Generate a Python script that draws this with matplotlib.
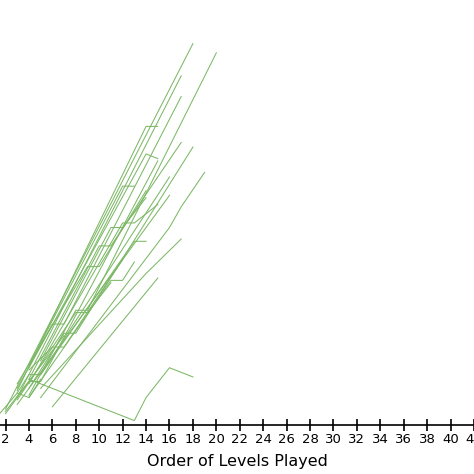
import matplotlib.pyplot as plt

# one vertex list per player: (order of play, level reached)
players = [
    [(2, 0.7), (18, 16.6)],
    [(4, 1.3), (8, 5.0), (9, 5.0), (20, 16.2)],
    [(3, 1.2), (17, 15.2)],
    [(3, 1.6), (6, 4.4), (7, 4.4), (17, 14.3)],
    [(4, 2.0), (10, 7.8), (11, 7.8), (17, 12.3)],
    [(4, 1.6), (7, 4.0), (8, 4.0), (18, 12.1)],
    [(5, 1.2), (16, 8.6), (17, 9.5), (19, 11.0)],
    [(5, 1.6), (14, 6.6), (17, 8.1)],
    [(6, 0.8), (15, 6.4)],
    [(2, 0.5), (4, 1.9), (5, 1.9), (15, 11.5)],
    [(3, 1.4), (4, 2.2), (5, 2.2), (16, 10.8)],
    [(3, 0.9), (16, 10.0)],
    [(4, 2.5), (14, 11.8), (15, 11.6)],
    [(3, 1.8), (9, 6.9), (10, 6.9), (14, 10.2)],
    [(4, 1.8), (12, 8.8), (13, 8.8), (15, 9.6)],
    [(5, 2.2), (13, 8.0), (14, 8.0)],
    [(4, 1.2), (11, 6.3), (12, 6.3), (13, 7.1)],
    [(3, 1.1), (8, 4.9), (9, 4.9), (11, 6.2)],
    [(4, 2.4), (6, 3.4), (7, 3.4), (12, 7.2)],
    [(2, 0.6), (7, 3.9)],
    [(4, 2.0), (13, 0.2), (14, 1.2), (16, 2.5), (18, 2.1)],
    [(1.5, 0.5), (3, 1.4), (4, 1.2), (5, 2.0)],
    [(3, 1.5), (14, 13.0), (15, 13.0)],
    [(4, 2.6), (12, 10.4), (13, 10.4)],
    [(5, 2.8), (11, 8.6), (12, 8.6), (14, 9.9)],
]
x_ticks = list(range(2, 44, 2))

fig = plt.figure(figsize=(4.74, 4.74), dpi=100)
ax = fig.add_axes([0, 0.103, 1, 0.897])

for pts in players:
    xs = [p[0] for p in pts]
    ys = [p[1] for p in pts]
    ax.plot(xs, ys, color='#7cb866', linewidth=0.75)

ax.set_xlim(1.53, 41.9)
ax.set_ylim(0, 18.5)
ax.set_xticks(x_ticks)
ax.set_yticks([])
ax.tick_params(axis='x', direction='inout', length=9, width=1.2, labelsize=9.5, pad=1)
for s in ['left', 'right', 'top']:
    ax.spines[s].set_visible(False)
ax.spines['bottom'].set_linewidth(1.2)
ax.set_xlabel('Order of Levels Played', fontsize=11.5, labelpad=6)

fig.savefig('out.png', dpi=100)
